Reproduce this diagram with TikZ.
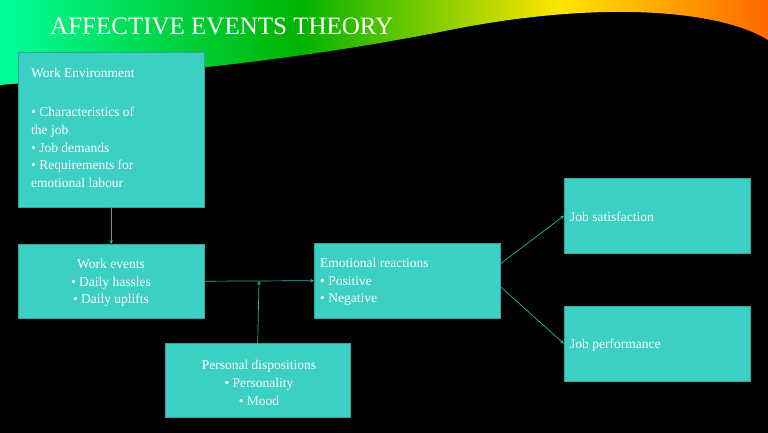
\documentclass[tikz,border=0pt]{standalone}
\usepackage{fontspec}
\setmainfont{Liberation Serif}
\definecolor{tq}{RGB}{60,207,196}
\definecolor{ar}{RGB}{40,180,170}
\begin{document}
\begin{tikzpicture}[x=1pt,y=-1pt,
  box/.style={draw=tq!80!black,fill=tq,line width=0.4pt},
  txt/.style={text=white,font=\fontsize{13.5}{17.7}\selectfont,inner sep=0pt},
  arr/.style={draw=ar,line width=0.7pt,-stealth}]
\fill[black] (0,0) rectangle (768,433);
\useasboundingbox (0,0) rectangle (768,433);
\begin{scope}
\clip (0,0)--(768,0)--(768,40) .. controls (720,10) and (600,0) .. (450,30) .. controls (250,70) and (80,78) .. (0,85) -- cycle;
\shade[left color=cyan!60!green, right color=green!70!black] (0,0) rectangle (300,90);
\shade[left color=green!70!black, right color=yellow!80!orange] (300,0) rectangle (560,90);
\shade[left color=yellow!80!orange, right color=orange!80!red] (560,0) rectangle (768,90);
\end{scope}
\node[text=white,font=\fontsize{25}{25}\selectfont,anchor=base west,inner sep=0pt] (title) at (50,35) {AFFECTIVE EVENTS THEORY};
\node[box,minimum width=186,minimum height=155,anchor=north west] (we) at (18,52) {};
\node[box,minimum width=186,minimum height=74,anchor=north west] (ev) at (18,244) {};
\node[box,minimum width=186,minimum height=75,anchor=north west] (er) at (314,243) {};
\node[box,minimum width=185,minimum height=74,anchor=north west] (pd) at (165,343) {};
\node[box,minimum width=186,minimum height=75,anchor=north west] (js) at (564,178) {};
\node[box,minimum width=186,minimum height=75,anchor=north west] (jp) at (564,306) {};
\node[txt,anchor=north west,align=left] (wet) at (31,68) {Work Environment};
\node[txt,anchor=north west,align=left] (wel) at (31,107) {• Characteristics of\\the job\\• Job demands\\• Requirements for\\emotional labour};
\node[txt,align=center] (evt) at (111,283) {Work events\\• Daily hassles\\• Daily uplifts};
\node[txt,anchor=north west,align=left] (ert) at (320,258) {Emotional reactions\\• Positive\\• Negative};
\node[txt,align=center] (pdt) at (259,383) {Personal dispositions\\• Personality\\• Mood};
\node[txt,anchor=west] (jst) at (570,217) {Job satisfaction};
\node[txt,anchor=west] (jpt) at (570,345) {Job performance};
\coordinate (m) at (259,281);
\draw[arr] (we.south) -- (ev.north);
\draw[arr] (ev.east) -- (er.west);
\draw[arr] (pd.north) -- (m);
\draw[arr] ([yshift=17]er.east) -- (js.west);
\draw[arr] ([yshift=-6]er.east) -- (jp.west);
\end{tikzpicture}
\end{document}
